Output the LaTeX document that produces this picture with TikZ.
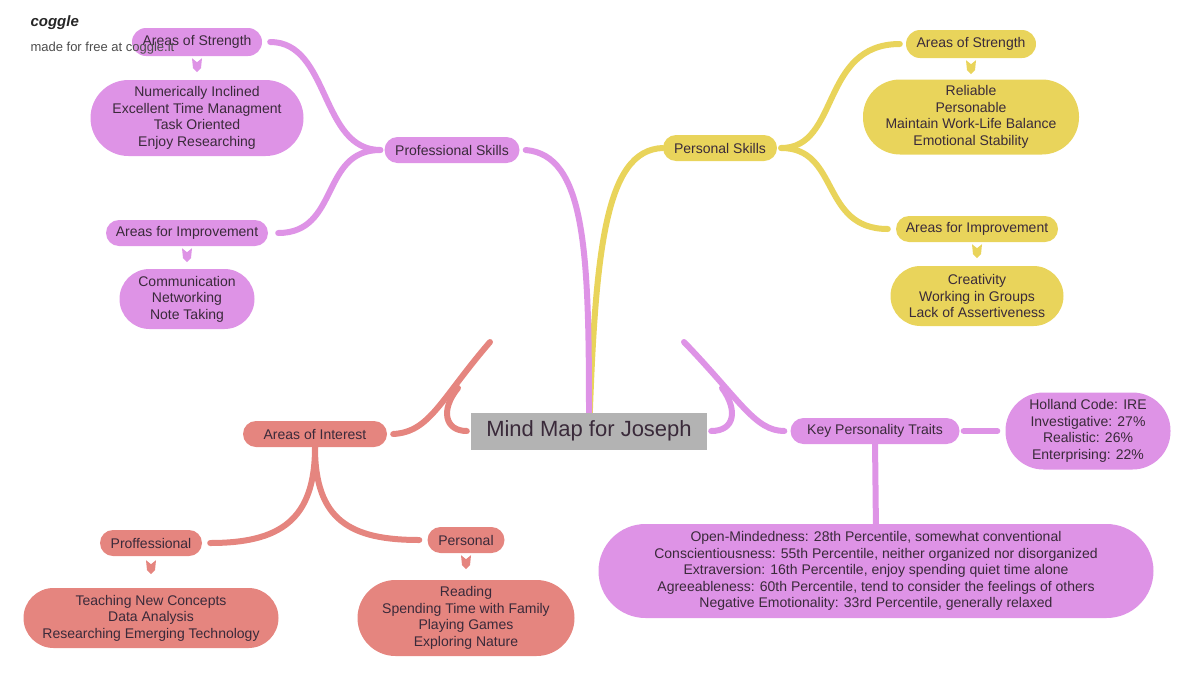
\documentclass[tikz,border=0pt]{standalone}
\usepackage{fontspec}
\usetikzlibrary{calc}
\setmainfont{Liberation Sans}
\definecolor{pur}{HTML}{DE93E6}
\definecolor{yel}{HTML}{E9D45B}
\definecolor{red}{HTML}{E5857F}
\definecolor{gry}{HTML}{B3B3B3}
\definecolor{txt}{HTML}{3A2A3A}
\begin{document}
\begin{tikzpicture}[x=1pt,y=-1pt,
  box/.style={fill=#1,text=txt,align=center,font=\fontsize{14}{16.5}\selectfont,inner sep=0pt},
  br/.style={draw=#1,line width=6pt,line cap=round},
  tick/.style={fill=#1}]
\useasboundingbox (0,0) rectangle (1200,691);
\newcommand\chev[2]{\fill[tick=#1] ($(#2)+(-5,0)$) -- ($(#2)+(0,4)$) -- ($(#2)+(5,0)$) -- ($(#2)+(4,10)$) -- ($(#2)+(0,14)$) -- ($(#2)+(-4,10)$) -- cycle;}
% nodes
\node[box=gry,minimum width=236,minimum height=37,font=\fontsize{22}{24}\selectfont] (c) at (589,431) {Mind Map for Joseph};
\node[box=pur,rounded corners=13,minimum width=135,minimum height=26] (ps) at (452,150) {Professional Skills};
\node[box=pur,rounded corners=14,minimum width=130,minimum height=28] (as1) at (197,42) {Areas of Strength};
\node[box=pur,rounded corners=38,minimum width=213,minimum height=76] (s1) at (197,118) {Numerically Inclined\\Excellent Time Managment\\Task Oriented\\Enjoy Researching};
\node[box=pur,rounded corners=13,minimum width=162,minimum height=26] (ai1) at (187,233) {Areas for Improvement};
\node[box=pur,rounded corners=30,minimum width=135,minimum height=60] (i1) at (187,299) {Communication\\Networking\\Note Taking};
\node[box=yel,rounded corners=13,minimum width=114,minimum height=26] (pe) at (720,148) {Personal Skills};
\node[box=yel,rounded corners=14,minimum width=130,minimum height=28] (as2) at (971,44) {Areas of Strength};
\node[box=yel,rounded corners=37,minimum width=216,minimum height=75] (s2) at (971,117) {Reliable\\Personable\\Maintain Work-Life Balance\\Emotional Stability};
\node[box=yel,rounded corners=13,minimum width=162,minimum height=26] (ai2) at (977,229) {Areas for Improvement};
\node[box=yel,rounded corners=30,minimum width=173,minimum height=60] (i2) at (977,296) {Creativity\\Working in Groups\\Lack of Assertiveness};
\node[box=pur,rounded corners=13,minimum width=169,minimum height=26] (kp) at (875,431) {Key Personality Traits};
\node[box=pur,rounded corners=38,minimum width=165,minimum height=77] (ho) at (1088,431) {Holland Code: IRE\\Investigative: 27\%\\Realistic: 26\%\\Enterprising: 22\%};
\node[box=pur,rounded corners=47,minimum width=555,minimum height=94] (om) at (876,571) {Open-Mindedness: 28th Percentile, somewhat conventional\\Conscientiousness: 55th Percentile, neither organized nor disorganized\\Extraversion: 16th Percentile, enjoy spending quiet time alone\\Agreeableness: 60th Percentile, tend to consider the feelings of others\\Negative Emotionality: 33rd Percentile, generally relaxed};
\node[box=red,rounded corners=13,minimum width=144,minimum height=26] (ar) at (315,434) {Areas of Interest};
\node[box=red,rounded corners=13,minimum width=102,minimum height=26] (pf) at (151,543) {Proffessional};
\node[box=red,rounded corners=30,minimum width=255,minimum height=60] (te) at (151,618) {Teaching New Concepts\\Data Analysis\\Researching Emerging Technology};
\node[box=red,rounded corners=13,minimum width=77,minimum height=26] (pr) at (466,540) {Personal};
\node[box=red,rounded corners=38,minimum width=217,minimum height=76] (re) at (466,618) {Reading\\Spending Time with Family\\Playing Games\\Exploring Nature};
% logo
\node[anchor=west,font=\itshape\bfseries\fontsize{15}{16}\selectfont,text=black!85] (lg) at (27,23) {coggle};
\node[anchor=west,font=\fontsize{13}{14}\selectfont,text=black!70] (mf) at (27,48) {made for free at coggle.it};
% coordinates
\coordinate (redtip) at (490,342);
\coordinate (purtip) at (684,342);
% branches
\draw[br=yel] ([yshift=-25]c.north) .. controls (595,250) and (605,150) .. (pe.west);
\draw[br=pur] (c.north) .. controls (589,250) and (585,155) .. ([xshift=6]ps.east);
\draw[br=pur] ([xshift=-4]ps.west) .. controls (320,150) and (330,42) .. ([xshift=8]as1.east);
\draw[br=pur] ([xshift=-4]ps.west) .. controls (320,150) and (340,233) .. ([xshift=10]ai1.east);
\draw[br=yel] ([xshift=4]pe.east) .. controls (840,148) and (820,44) .. ([xshift=-6]as2.west);
\draw[br=yel] ([xshift=4]pe.east) .. controls (840,148) and (820,229) .. ([xshift=-8]ai2.west);
\draw[br=red] (redtip) .. controls (440,400) and (430,432) .. ([xshift=6]ar.east);
\draw[br=red] ([xshift=-4]c.west) .. controls (445,431) and (440,410) .. (458,388);
\draw[br=pur] (purtip) .. controls (740,400) and (755,431) .. ([xshift=-6]kp.west);
\draw[br=pur] ([xshift=4]c.east) .. controls (735,431) and (738,410) .. (722,388);
\draw[br=pur] ([xshift=4]kp.east) -- ([xshift=-8]ho.west);
\draw[br=pur] ([yshift=4]kp.south) -- ([yshift=-8]om.north);
\draw[br=red] (ar.south) .. controls (315,520) and (280,543) .. ([xshift=8]pf.east);
\draw[br=red] (ar.south) .. controls (315,520) and (350,540) .. ([xshift=-8]pr.west);
% ticks
\coordinate (t1) at ($(as1.south)+(0,2)$); \chev{pur}{t1}
\coordinate (t2) at ($(ai1.south)+(0,2)$); \chev{pur}{t2}
\coordinate (t3) at ($(as2.south)+(0,2)$); \chev{yel}{t3}
\coordinate (t4) at ($(ai2.south)+(0,2)$); \chev{yel}{t4}
\coordinate (t5) at ($(pf.south)+(0,4)$); \chev{red}{t5}
\coordinate (t6) at ($(pr.south)+(0,2)$); \chev{red}{t6}
% redraw central node on top
\node[box=gry,minimum width=236,minimum height=37,font=\fontsize{22}{24}\selectfont] at (589,431) {Mind Map for Joseph};
\end{tikzpicture}
\end{document}
